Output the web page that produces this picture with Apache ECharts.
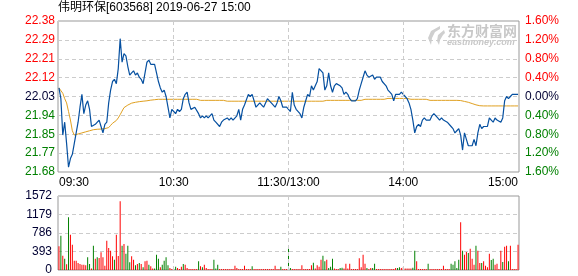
<!DOCTYPE html>
<html><head><meta charset="utf-8">
<script src="https://cdn.jsdelivr.net/npm/echarts@6/dist/echarts.min.js"></script>
<style>html,body{margin:0;padding:0;background:#fff}#c{width:578px;height:276px}</style>
</head><body><div id="c"></div>
<script>
const titleText = '伟明环保[603568] 2019-06-27 15:00';
const prevClose = 22.03;
const priceTickLabels = ['22.38','22.29','22.21','22.12','22.03','21.94','21.85','21.77','21.68'];
const pctTickLabels = ['1.60%','1.20%','0.80%','0.40%','0.00%','0.40%','0.80%','1.20%','1.60%'];
const timeTickLabels = {0:'09:30',60:'10:30',120:'11:30/13:00',180:'14:00',240:'15:00'};
const volTickLabels = ['0','393','786','1179','1572'];

const price = [
22.07,22.02,21.85,21.91,21.81,21.70,21.74,21.76,21.81,21.86,
21.91,21.98,22.04,21.95,21.99,22.01,21.97,21.89,21.89,21.90,
21.90,21.92,21.89,21.86,21.90,21.91,22.00,22.06,22.10,22.11,
22.09,22.16,22.30,22.19,22.23,22.22,22.17,22.13,22.14,22.15,
22.13,22.14,22.12,22.11,22.09,22.14,22.19,22.20,22.18,22.18,
22.18,22.14,22.10,22.07,22.05,22.06,22.03,21.98,21.93,21.97,
21.96,21.95,21.97,21.96,21.97,22.02,22.04,22.05,22.00,21.97,
21.97,21.98,21.98,21.95,21.93,21.94,21.93,21.94,21.93,21.93,
21.95,21.92,21.91,21.91,21.89,21.91,21.92,21.92,21.93,21.92,
21.93,21.92,21.92,21.94,21.97,21.92,21.97,21.99,21.99,22.04,
22.03,22.04,22.01,21.98,21.98,22.00,21.99,21.98,22.00,22.02,
22.01,22.00,22.00,21.98,22.00,22.03,22.01,21.98,21.98,21.98,
21.97,21.96,22.05,21.99,21.97,21.97,21.95,21.93,21.98,22.01,
22.04,22.03,22.08,22.06,22.08,22.10,22.16,22.16,22.14,22.06,
22.08,22.14,22.08,22.05,22.08,22.09,22.09,22.08,22.07,22.04,
22.05,22.04,22.02,22.01,22.01,22.01,22.02,22.06,22.09,22.12,
22.15,22.13,22.12,22.12,22.13,22.11,22.12,22.12,22.12,22.10,
22.10,22.08,22.06,22.05,22.04,22.01,22.04,22.04,22.04,22.05,
22.04,22.03,22.02,22.00,21.97,21.92,21.86,21.89,21.90,21.89,
21.92,21.93,21.92,21.92,21.92,21.94,21.95,21.95,21.93,21.92,
21.93,21.92,21.92,21.91,21.91,21.89,21.88,21.86,21.87,21.88,
21.85,21.78,21.86,21.83,21.80,21.80,21.80,21.83,21.80,21.86,
21.90,21.88,21.89,21.89,21.89,21.93,21.92,21.91,21.93,21.92,
21.92,21.91,21.93,22.01,22.03,22.02,22.03,22.04,22.04,22.04,
22.04];

const avgPrice = [
22.070,22.070,22.045,22.020,22.000,21.960,21.920,21.870,21.850,21.850,
21.855,21.858,21.860,21.863,21.865,21.868,21.870,21.872,21.875,21.876,
21.877,21.878,21.878,21.879,21.880,21.880,21.885,21.895,21.905,21.912,
21.918,21.930,21.945,21.962,21.978,21.986,21.990,21.995,21.999,22.001,
22.003,22.005,22.006,22.007,22.008,22.009,22.010,22.012,22.013,22.014,
22.015,22.016,22.017,22.017,22.017,22.017,22.017,22.017,22.017,22.017,
22.017,22.017,22.017,22.017,22.017,22.017,22.017,22.017,22.017,22.017,
22.017,22.017,22.017,22.017,22.012,22.012,22.012,22.012,22.012,22.012,
22.012,22.012,22.012,22.012,22.012,22.012,22.012,22.008,22.008,22.008,
22.008,22.008,22.008,22.008,22.008,22.008,22.008,22.008,22.008,22.008,
22.008,22.008,22.008,22.008,22.008,22.008,22.008,22.008,22.008,22.008,
22.008,22.008,22.008,22.008,22.008,22.008,22.008,22.008,22.008,22.008,
22.008,22.008,22.008,22.008,22.008,22.008,22.008,22.008,22.008,22.008,
22.008,22.008,22.008,22.008,22.008,22.008,22.008,22.008,22.008,22.012,
22.012,22.012,22.012,22.012,22.012,22.012,22.012,22.012,22.012,22.012,
22.012,22.012,22.012,22.012,22.012,22.012,22.012,22.012,22.012,22.012,
22.017,22.017,22.017,22.017,22.017,22.017,22.017,22.017,22.017,22.017,
22.017,22.021,22.021,22.021,22.021,22.021,22.021,22.021,22.021,22.021,
22.021,22.021,22.021,22.017,22.017,22.017,22.017,22.017,22.017,22.017,
22.017,22.017,22.017,22.017,22.012,22.012,22.012,22.012,22.012,22.012,
22.012,22.012,22.012,22.012,22.012,22.012,22.012,22.012,22.012,22.012,
22.011,22.009,22.007,22.005,22.003,22.000,21.997,21.994,21.991,21.989,
21.987,21.986,21.986,21.986,21.986,21.986,21.986,21.986,21.986,21.986,
21.986,21.986,21.986,21.986,21.986,21.986,21.986,21.986,21.986,21.986,
21.986];

const volume = [
503,729,304,241,120,1119,750,538,198,198,
149,127,113,113,99,269,127,30,517,241,
269,255,375,269,92,623,467,411,290,219,
750,300,1458,517,552,347,517,163,290,219,
99,127,149,127,57,184,198,113,78,30,
30,325,240,57,113,198,269,99,40,20,
20,70,40,20,70,127,113,40,20,20,
20,20,20,184,78,57,113,40,20,20,
20,219,30,113,20,20,20,20,20,20,
20,20,92,40,20,20,20,92,20,20,
20,78,20,20,20,20,20,20,20,20,
20,20,20,92,20,20,70,20,20,20,
481,40,20,20,20,20,20,99,20,20,
20,20,99,156,30,99,70,219,304,184,
219,40,70,240,30,20,20,40,50,30,
134,30,134,20,20,20,20,248,60,326,
134,40,20,40,40,134,20,20,20,20,
20,20,20,20,20,20,40,40,60,40,
60,30,30,30,30,50,410,184,20,20,
20,20,20,134,20,20,20,20,20,20,
20,92,20,20,20,134,113,184,40,219,
1012,410,326,382,361,453,240,113,517,410,
149,149,184,92,57,347,212,240,113,134,
20,410,170,496,517,184,517,20,20,20,
538];

const volDir = [
1,-1,1,-1,1,-1,1,1,1,1,
1,1,1,1,1,-1,-1,1,-1,1,
-1,1,1,1,1,1,1,1,1,-1,
1,1,1,-1,1,-1,-1,-1,1,1,
-1,1,-1,1,-1,1,1,-1,1,1,
-1,-1,-1,1,-1,-1,-1,-1,1,1,
-1,-1,1,1,1,-1,1,1,1,1,
1,1,1,-1,1,-1,1,1,1,1,
1,-1,-1,-1,1,1,1,1,1,1,
1,1,1,1,1,1,1,1,1,1,
1,-1,1,1,1,1,1,1,1,1,
1,1,1,1,1,1,-1,1,1,1,
-1,-1,1,1,1,1,1,1,1,1,
1,1,1,-1,1,1,1,1,-1,-1,
1,-1,-1,-1,1,1,1,-1,-1,1,
1,1,1,1,1,1,1,1,1,1,
1,-1,1,1,-1,-1,1,1,1,1,
1,1,1,1,1,1,1,-1,-1,1,
1,1,1,1,1,-1,-1,1,1,1,
1,1,1,-1,1,1,1,1,1,1,
1,1,1,1,1,-1,-1,-1,-1,-1,
1,-1,1,1,-1,1,1,1,-1,1,
1,-1,1,1,1,1,-1,-1,1,1,
1,1,-1,1,1,-1,1,1,1,1,
1];

// minute categories 09:30..11:30, 13:01..15:00
const times = [];
function pad(n){return (n<10?'0':'')+n;}
for (let t = 9*60+30; t <= 11*60+30; t++) times.push(pad(Math.floor(t/60))+':'+pad(t%60));
for (let t = 13*60+1; t <= 15*60; t++) times.push(pad(Math.floor(t/60))+':'+pad(t%60));

const toBp = p => (p / prevClose - 1) * 10000;
const RED = '#ff0000', GREEN = '#008000', DARK = '#000033';
const FONT = '"Liberation Sans", Arial, "Noto Sans CJK SC", sans-serif';
const dash = {type:[4,3], color:'#cccccc', width:1};
const vLines = [{xAxis: '10:30'}, {xAxis: '11:30'}, {xAxis: '14:00'}];

const chart = echarts.init(document.getElementById('c'), null, {renderer:'canvas'});
chart.setOption({
  animation: false,
  backgroundColor: '#fff',
  title: {text: titleText, left: 58, top: 2, padding: 0,
    textStyle: {fontSize: 12, fontWeight: 'normal', color: '#000', fontFamily: FONT}},
  grid: [
    {left: 58, top: 21, width: 461, height: 151, show: true, borderColor: '#999', borderWidth: 1, backgroundColor: 'transparent'},
    {left: 58, top: 196, width: 461, height: 74, show: true, borderColor: '#999', borderWidth: 1, backgroundColor: 'transparent'}
  ],
  xAxis: [
    {type: 'category', gridIndex: 0, data: times, boundaryGap: true,
      axisLine: {show: false}, axisTick: {show: false}, splitLine: {show: false},
      axisLabel: {interval: 0, margin: 5, fontSize: 12, color: '#000', fontFamily: FONT,
        alignMinLabel: 'left', alignMaxLabel: 'right',
        formatter: (v, i) => timeTickLabels[i] !== undefined ? timeTickLabels[i] : ''}},
    {type: 'category', gridIndex: 1, data: times, boundaryGap: true,
      axisLine: {show: false}, axisTick: {show: false}, splitLine: {show: false}, axisLabel: {show: false}}
  ],
  yAxis: [
    {type: 'value', gridIndex: 0, min: -160, max: 160, interval: 40, position: 'left',
      axisLine: {show: false}, axisTick: {show: false},
      splitLine: {show: true, lineStyle: dash},
      axisLabel: {margin: 3, fontSize: 12, fontFamily: FONT,
        formatter: v => priceTickLabels[Math.round((160 - v) / 40)],
        color: v => v > 0 ? RED : (v < 0 ? GREEN : DARK)}},
    {type: 'value', gridIndex: 0, min: -160, max: 160, interval: 40, position: 'right',
      axisLine: {show: false}, axisTick: {show: false}, splitLine: {show: false},
      axisLabel: {margin: 6, fontSize: 12, fontFamily: FONT,
        formatter: v => pctTickLabels[Math.round((160 - v) / 40)],
        color: v => v > 0 ? RED : (v < 0 ? GREEN : DARK)}},
    {type: 'value', gridIndex: 1, min: 0, max: 1572, interval: 393,
      axisLine: {show: false}, axisTick: {show: false},
      splitLine: {show: true, lineStyle: dash},
      axisLabel: {margin: 6, fontSize: 12, fontFamily: FONT, color: DARK,
        formatter: v => volTickLabels[Math.round(v / 393)]}}
  ],
  series: [
    {type: 'line', name: 'gridV', xAxisIndex: 1, yAxisIndex: 2, data: [], z: 0,
      markLine: {silent: true, symbol: 'none', label: {show: false}, lineStyle: dash, data: vLines}},
    {type: 'line', name: 'avg', xAxisIndex: 0, yAxisIndex: 0, data: avgPrice.map(toBp),
      showSymbol: false, symbol: 'none', z: 2,
      lineStyle: {color: '#e0a020', width: 1},
      markLine: {silent: true, symbol: 'none', label: {show: false}, lineStyle: dash, data: vLines}},
    {type: 'line', name: 'price', xAxisIndex: 0, yAxisIndex: 0, data: price.map(toBp),
      showSymbol: false, symbol: 'none', z: 3,
      lineStyle: {color: '#0650a0', width: 1.2}},
    {type: 'bar', name: 'vol', xAxisIndex: 1, yAxisIndex: 2, barWidth: 1, z: 3,
      data: volume.map((v, i) => ({value: v, itemStyle: {color: volDir[i] > 0 ? RED : GREEN}}))}
  ],
  graphic: [
    {type: 'polygon', z: 0, shape: {points: [[440,26],[431,31],[428,38],[431,45],[432,38],[435,32],[440,29]]},
      style: {fill: '#cfcfcf'}},
    {type: 'polygon', z: 0, shape: {points: [[444,30],[438,35],[437,41],[439,45],[440,40],[443,35],[445,33]]},
      style: {fill: '#cfcfcf'}},
    {type: 'text', left: 447, top: 24, z: 0, style: {text: '东方财富网', font: 'bold 14px "Noto Sans CJK SC"', fill: '#c8c8c8'}},
    {type: 'text', left: 447, top: 38, z: 0, style: {text: 'eastmoney.com', font: 'italic bold 9px "Liberation Sans"', fill: '#c8c8c8'}}
  ]
});
</script>
</body></html>
